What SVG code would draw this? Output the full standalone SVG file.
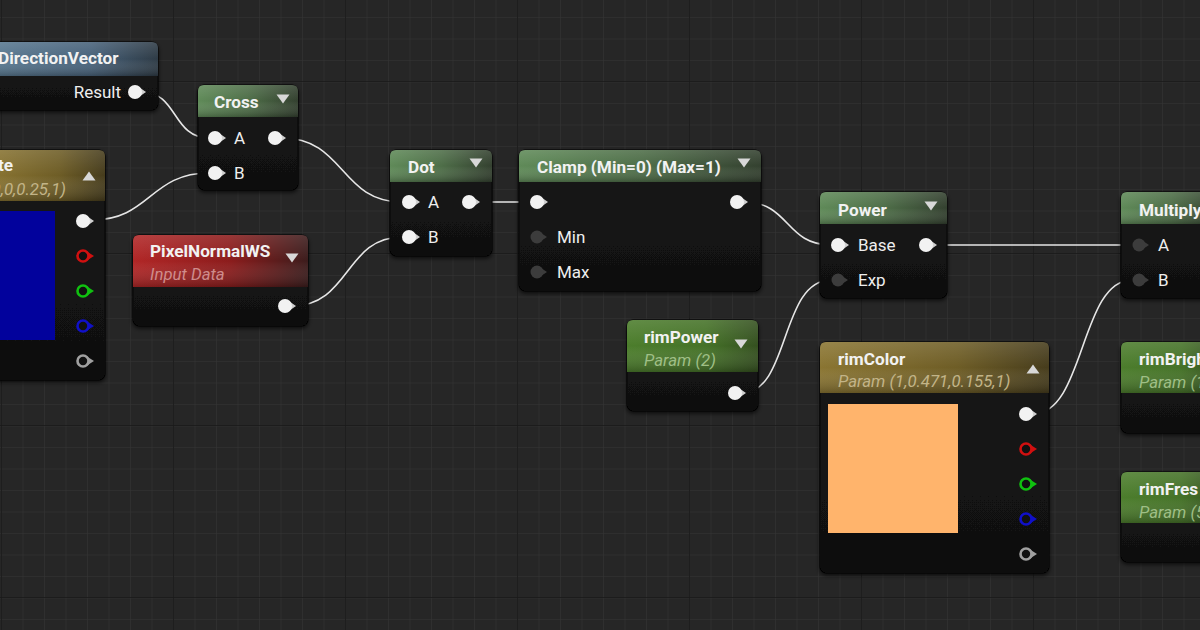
<svg xmlns="http://www.w3.org/2000/svg" width="1200" height="630" viewBox="0 0 1200 630">
<defs>
  <pattern id="minor" patternUnits="userSpaceOnUse" x="1" y="17" width="21.5" height="21.5">
    <path d="M0 0 H21.5 M0 0 V21.5" stroke="#363636" stroke-width="1" fill="none"/>
  </pattern>
  <pattern id="major" patternUnits="userSpaceOnUse" x="1" y="81" width="172" height="172">
    <path d="M0 0 H172 M0 0 V172" stroke="#181818" stroke-width="1.5" fill="none"/>
  </pattern>
  <linearGradient id="gGreen" x1="0" y1="0" x2="1" y2="0">
    <stop offset="0" stop-color="#5f8a58"/>
    <stop offset="0.5" stop-color="#4e6e48"/>
    <stop offset="1" stop-color="#33402f"/>
  </linearGradient>
  <linearGradient id="gParamGreen" x1="0" y1="0" x2="1" y2="0">
    <stop offset="0" stop-color="#4c7d2c"/>
    <stop offset="0.6" stop-color="#457228"/>
    <stop offset="1" stop-color="#34501f"/>
  </linearGradient>
  <linearGradient id="gGold" x1="0" y1="0" x2="1" y2="0">
    <stop offset="0" stop-color="#8a7532"/>
    <stop offset="0.6" stop-color="#6e5d26"/>
    <stop offset="1" stop-color="#463c1c"/>
  </linearGradient>
  <linearGradient id="gRed" x1="0" y1="0" x2="1" y2="0">
    <stop offset="0" stop-color="#b12626"/>
    <stop offset="0.55" stop-color="#8c1c1c"/>
    <stop offset="1" stop-color="#3c1c1c"/>
  </linearGradient>
  <linearGradient id="gBlue" x1="0" y1="0" x2="1" y2="0">
    <stop offset="0" stop-color="#5a7a92"/>
    <stop offset="0.6" stop-color="#48627a"/>
    <stop offset="1" stop-color="#2e3b46"/>
  </linearGradient>
  <linearGradient id="gShade" x1="0" y1="0" x2="0" y2="1">
    <stop offset="0" stop-color="#ffffff" stop-opacity="0.12"/>
    <stop offset="0.5" stop-color="#ffffff" stop-opacity="0"/>
    <stop offset="1" stop-color="#000000" stop-opacity="0.25"/>
  </linearGradient>
  <linearGradient id="gBody" x1="0" y1="0" x2="0" y2="1">
    <stop offset="0" stop-color="#161616"/>
    <stop offset="1" stop-color="#101010"/>
  </linearGradient>
  <filter id="shadow" x="-10%" y="-10%" width="120%" height="130%">
    <feDropShadow dx="0" dy="2" stdDeviation="2" flood-color="#000" flood-opacity="0.7"/>
  </filter>
  <g id="pinW">
    <polygon points="4.5,-4.5 11,0 4.5,4.5" fill="#d0d0d0"/>
    <circle cx="0" cy="0" r="7" fill="#f2f2f2"/>
  </g>
  <g id="pinD">
    <polygon points="4,-4 10,0 4,4" fill="#3c3c3c"/>
    <circle cx="0" cy="0" r="6.5" fill="#3c3c3c"/>
  </g>
  <g id="pinR"><polygon points="4,-4.5 11,0 4,4.5" fill="#d01010"/><circle r="5.5" fill="#111" stroke="#d01010" stroke-width="2.6"/></g>
  <g id="pinG"><polygon points="4,-4.5 11,0 4,4.5" fill="#10c010"/><circle r="5.5" fill="#111" stroke="#10c010" stroke-width="2.6"/></g>
  <g id="pinB"><polygon points="4,-4.5 11,0 4,4.5" fill="#1010c8"/><circle r="5.5" fill="#111" stroke="#1010c8" stroke-width="2.6"/></g>
  <g id="pinA"><polygon points="4,-4.5 11,0 4,4.5" fill="#a0a0a0"/><circle r="5.5" fill="#111" stroke="#a0a0a0" stroke-width="2.6"/></g>
  <polygon id="triDown" points="-6.5,-4.5 6.5,-4.5 0,4.5" fill="#d8d8d8"/>
  <polygon id="triUp" points="-6.5,4.5 6.5,4.5 0,-4.5" fill="#d8d8d8"/>
</defs>
<style>
  .body { fill: url(#gBody); stroke: #050505; stroke-width: 1; filter: url(#shadow); }
  .title { font-family: Roboto, "Liberation Sans", sans-serif; font-weight: 700; font-size: 17.2px; fill: #f2f2f2; }
  .lbl { font-family: Roboto, "Liberation Sans", sans-serif; font-size: 17px; fill: #eeeeee; }
  .sub { font-family: Roboto, "Liberation Sans", sans-serif; font-style: italic; font-size: 16.8px; }
  .wire { fill: none; stroke: #e6e6e6; stroke-width: 1.6; }
</style>

<rect width="1200" height="630" fill="#262626"/>
<rect width="1200" height="630" fill="url(#minor)"/>
<rect width="1200" height="630" fill="url(#major)"/>

<g id="connectors">
  <path class="wire" d="M142 92 C178 92 172 138 209 138"/>
  <path class="wire" d="M92 220 C150 220 150 173 209 173"/>
  <path class="wire" d="M282 138 C345 138 340 202 402 202"/>
  <path class="wire" d="M292 306 C350 306 345 237 402 237"/>
  <path class="wire" d="M476 202 L530 202"/>
  <path class="wire" d="M744 202 C790 202 785 245 831 245"/>
  <path class="wire" d="M742 393 C790 393 780 280 831 280"/>
  <path class="wire" d="M933 245 L1132 245"/>
  <path class="wire" d="M1033 414 C1085 414 1080 280 1132 280"/>
</g>

<g id="node-directionvector">
  <rect class="body" x="-10" y="42" width="168" height="68" rx="6"/>
  <path d="M-10 76 V48 Q-10 42 -4 42 H152 Q158 42 158 48 V76 Z" fill="url(#gBlue)"/>
  <path d="M-10 76 V48 Q-10 42 -4 42 H152 Q158 42 158 48 V76 Z" fill="url(#gShade)"/>
  <text class="title" x="-2" y="64">DirectionVector</text>
  <text class="lbl" x="121" y="98" text-anchor="end">Result</text>
  <use href="#pinW" x="135" y="92"/>
</g>

<g id="node-cross">
  <rect class="body" x="198" y="85" width="100" height="105" rx="6"/>
  <path d="M198 117 V91 Q198 85 204 85 H292 Q298 85 298 91 V117 Z" fill="url(#gGreen)"/>
  <path d="M198 117 V91 Q198 85 204 85 H292 Q298 85 298 91 V117 Z" fill="url(#gShade)"/>
  <text class="title" x="214" y="108">Cross</text>
  <use href="#triDown" x="283" y="99"/>
  <use href="#pinW" x="215" y="138"/>
  <text class="lbl" x="234" y="144">A</text>
  <use href="#pinW" x="275" y="138"/>
  <use href="#pinW" x="215" y="173"/>
  <text class="lbl" x="234" y="179">B</text>
</g>

<g id="node-constant">
  <rect class="body" x="-10" y="150" width="115" height="230" rx="6"/>
  <path d="M-10 201 V156 Q-10 150 -4 150 H99 Q105 150 105 156 V201 Z" fill="url(#gGold)"/>
  <path d="M-10 201 V156 Q-10 150 -4 150 H99 Q105 150 105 156 V201 Z" fill="url(#gShade)"/>
  <text class="title" x="13" y="171" text-anchor="end">te</text>
  <text class="sub" x="66" y="195" text-anchor="end" fill="#c2b488">0,0,0.25,1)</text>
  <use href="#triUp" x="89" y="176"/>
  <rect x="-10" y="211" width="65" height="129" fill="#02029c"/>
  <use href="#pinW" x="83" y="221"/>
  <use href="#pinR" x="83" y="256"/>
  <use href="#pinG" x="83" y="291"/>
  <use href="#pinB" x="83" y="326"/>
  <use href="#pinA" x="83" y="361"/>
</g>

<g id="node-pixelnormalws">
  <rect class="body" x="133" y="235" width="175" height="91" rx="6"/>
  <path d="M133 287 V241 Q133 235 139 235 H302 Q308 235 308 241 V287 Z" fill="url(#gRed)"/>
  <path d="M133 287 V241 Q133 235 139 235 H302 Q308 235 308 241 V287 Z" fill="url(#gShade)"/>
  <text class="title" x="150" y="257">PixelNormalWS</text>
  <text class="sub" x="150" y="280" fill="#cf8c8c">Input Data</text>
  <use href="#triDown" x="292" y="258"/>
  <use href="#pinW" x="285" y="306"/>
</g>

<g id="node-dot">
  <rect class="body" x="390" y="150" width="102" height="106" rx="6"/>
  <path d="M390 182 V156 Q390 150 396 150 H486 Q492 150 492 156 V182 Z" fill="url(#gGreen)"/>
  <path d="M390 182 V156 Q390 150 396 150 H486 Q492 150 492 156 V182 Z" fill="url(#gShade)"/>
  <text class="title" x="408" y="173">Dot</text>
  <use href="#triDown" x="476" y="163"/>
  <use href="#pinW" x="409" y="202"/>
  <text class="lbl" x="428" y="208">A</text>
  <use href="#pinW" x="469" y="202"/>
  <use href="#pinW" x="409" y="237"/>
  <text class="lbl" x="428" y="243">B</text>
</g>

<g id="node-clamp">
  <rect class="body" x="519" y="150" width="242" height="141" rx="6"/>
  <path d="M519 182 V156 Q519 150 525 150 H755 Q761 150 761 156 V182 Z" fill="url(#gGreen)"/>
  <path d="M519 182 V156 Q519 150 525 150 H755 Q761 150 761 156 V182 Z" fill="url(#gShade)"/>
  <text class="title" x="537" y="173">Clamp (Min=0) (Max=1)</text>
  <use href="#triDown" x="744" y="163"/>
  <use href="#pinW" x="537" y="202"/>
  <use href="#pinW" x="737" y="202"/>
  <use href="#pinD" x="537" y="237"/>
  <text class="lbl" x="557" y="243">Min</text>
  <use href="#pinD" x="537" y="272"/>
  <text class="lbl" x="557" y="278">Max</text>
</g>

<g id="node-power">
  <rect class="body" x="820" y="192" width="127" height="106" rx="6"/>
  <path d="M820 224 V198 Q820 192 826 192 H941 Q947 192 947 198 V224 Z" fill="url(#gGreen)"/>
  <path d="M820 224 V198 Q820 192 826 192 H941 Q947 192 947 198 V224 Z" fill="url(#gShade)"/>
  <text class="title" x="838" y="216">Power</text>
  <use href="#triDown" x="931" y="206"/>
  <use href="#pinW" x="838" y="245"/>
  <text class="lbl" x="858" y="251">Base</text>
  <use href="#pinW" x="926" y="245"/>
  <use href="#pinD" x="838" y="280"/>
  <text class="lbl" x="858" y="286">Exp</text>
</g>

<g id="node-rimpower">
  <rect class="body" x="627" y="320" width="131" height="91" rx="6"/>
  <path d="M627 372 V326 Q627 320 633 320 H752 Q758 320 758 326 V372 Z" fill="url(#gParamGreen)"/>
  <path d="M627 372 V326 Q627 320 633 320 H752 Q758 320 758 326 V372 Z" fill="url(#gShade)"/>
  <text class="title" x="644" y="343">rimPower</text>
  <text class="sub" x="644" y="366" fill="#9fbf86">Param (2)</text>
  <use href="#triDown" x="741" y="344"/>
  <use href="#pinW" x="735" y="393"/>
</g>

<g id="node-rimcolor">
  <rect class="body" x="820" y="342" width="229" height="231" rx="6"/>
  <path d="M820 393 V348 Q820 342 826 342 H1043 Q1049 342 1049 348 V393 Z" fill="url(#gGold)"/>
  <path d="M820 393 V348 Q820 342 826 342 H1043 Q1049 342 1049 348 V393 Z" fill="url(#gShade)"/>
  <text class="title" x="838" y="365">rimColor</text>
  <text class="sub" x="838" y="387" fill="#c2b488">Param (1,0.471,0.155,1)</text>
  <use href="#triUp" x="1033" y="369"/>
  <rect x="828" y="404" width="130" height="129" fill="#ffb46c"/>
  <use href="#pinW" x="1026" y="414"/>
  <use href="#pinR" x="1026" y="449"/>
  <use href="#pinG" x="1026" y="484"/>
  <use href="#pinB" x="1026" y="519"/>
  <use href="#pinA" x="1026" y="554"/>
</g>

<g id="node-multiply">
  <rect class="body" x="1121" y="192" width="100" height="106" rx="6"/>
  <path d="M1121 224 V198 Q1121 192 1127 192 H1215 Q1221 192 1221 198 V224 Z" fill="url(#gGreen)"/>
  <path d="M1121 224 V198 Q1121 192 1127 192 H1215 Q1221 192 1221 198 V224 Z" fill="url(#gShade)"/>
  <text class="title" x="1139" y="216">Multiply</text>
  <use href="#pinD" x="1139" y="245"/>
  <text class="lbl" x="1158" y="251">A</text>
  <use href="#pinD" x="1139" y="280"/>
  <text class="lbl" x="1158" y="286">B</text>
</g>

<g id="node-rimbright">
  <rect class="body" x="1121" y="342" width="100" height="91" rx="6"/>
  <path d="M1121 393 V348 Q1121 342 1127 342 H1215 Q1221 342 1221 348 V393 Z" fill="url(#gParamGreen)"/>
  <path d="M1121 393 V348 Q1121 342 1127 342 H1215 Q1221 342 1221 348 V393 Z" fill="url(#gShade)"/>
  <text class="title" x="1139" y="365">rimBrigh</text>
  <text class="sub" x="1139" y="388" fill="#9fbf86">Param (1</text>
</g>

<g id="node-rimfres">
  <rect class="body" x="1121" y="472" width="100" height="90" rx="6"/>
  <path d="M1121 523 V478 Q1121 472 1127 472 H1215 Q1221 472 1221 478 V523 Z" fill="url(#gParamGreen)"/>
  <path d="M1121 523 V478 Q1121 472 1127 472 H1215 Q1221 472 1221 478 V523 Z" fill="url(#gShade)"/>
  <text class="title" x="1139" y="495">rimFres</text>
  <text class="sub" x="1139" y="518" fill="#9fbf86">Param (5</text>
</g>
</svg>
